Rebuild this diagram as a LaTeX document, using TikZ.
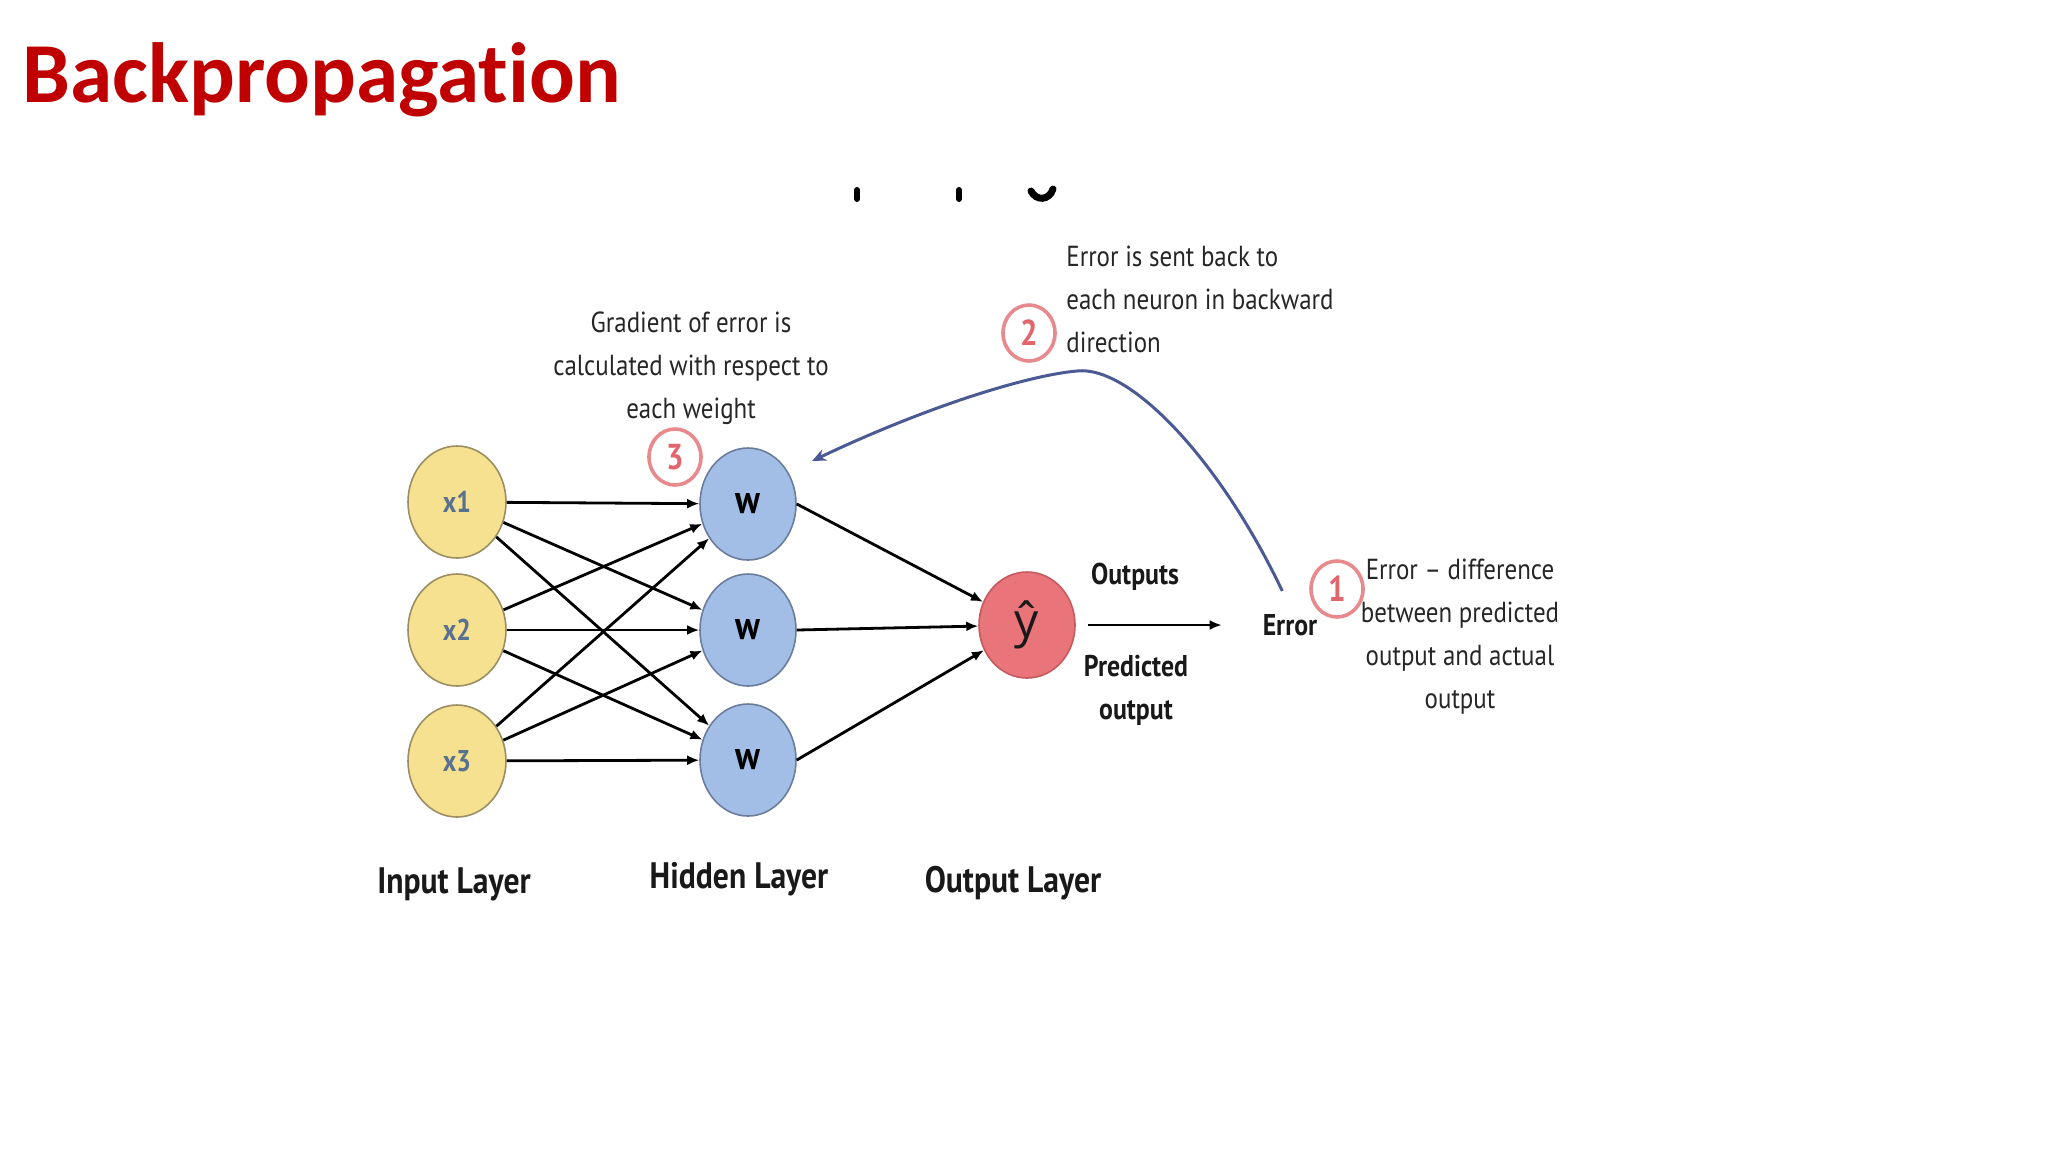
\documentclass[tikz,border=0pt]{standalone}
\usepackage{fontspec}
\setmainfont{PT Sans}
\newfontfamily\hand{PT Sans}[FakeStretch=0.86]
\newfontfamily\yfont{Open Sans}
\newfontfamily\titlefont{Carlito}[Ligatures=NoCommon]
\usetikzlibrary{shapes.geometric,arrows.meta}
\definecolor{titlered}{HTML}{C00000}
\definecolor{yellowfill}{HTML}{F5E18F}
\definecolor{yellowdraw}{HTML}{9C8E62}
\definecolor{bluefill}{HTML}{A3BEE6}
\definecolor{bluedraw}{HTML}{6A7E9C}
\definecolor{redfill}{HTML}{E9757A}
\definecolor{reddraw}{HTML}{C45A5E}
\definecolor{badgeline}{HTML}{E8898D}
\definecolor{badgenum}{HTML}{E2646C}
\definecolor{curvecol}{HTML}{4B5A94}
\definecolor{xcol}{HTML}{5A7090}
\begin{document}
\begin{tikzpicture}[x=0.5pt,y=-0.5pt,
  inp/.style={ellipse, draw=yellowdraw, fill=yellowfill, line width=0.8pt,
    minimum width=49pt, minimum height=56pt, inner sep=0pt,
    font=\hand\bfseries\fontsize{15}{17}\selectfont, text=xcol},
  hid/.style={ellipse, draw=bluedraw, fill=bluefill, line width=0.8pt,
    minimum width=48pt, minimum height=56pt, inner sep=0pt,
    font=\hand\bfseries\fontsize{20}{22}\selectfont, text=black},
  outn/.style={ellipse, draw=reddraw, fill=redfill, line width=0.8pt,
    minimum width=48pt, minimum height=53pt, inner sep=0pt,
    font=\yfont\fontsize{24}{26}\selectfont, text=black!90},
  badge/.style={ellipse, draw=badgeline, fill=white, line width=1.8pt,
    minimum width=26pt, minimum height=28pt, inner sep=0pt,
    font=\hand\bfseries\fontsize{18}{20}\selectfont, text=badgenum},
  edge/.style={-{Latex[length=6pt,width=5pt]}, line width=1.4pt, black},
  note/.style={align=center, inner sep=0pt, text=black!85,
    font=\hand\fontsize{14.5}{21.5}\selectfont},
  boldnote/.style={align=center, inner sep=0pt, text=black!90,
    font=\hand\bfseries\fontsize{15}{21.5}\selectfont},
  layer/.style={inner sep=0pt, text=black!90,
    font=\hand\bfseries\fontsize{18.4}{20}\selectfont},
  backarrow/.style={-{Stealth[length=7pt,width=6pt]}, line width=1.5pt, curvecol}
]
\useasboundingbox (0,0) rectangle (2048,1152);

% title
\node[anchor=base west, inner sep=0pt, text=titlered,
  font=\titlefont\bfseries\fontsize{42.7}{50}\selectfont] (title) at (22,102) {Backpropagation};

% cropped glyph fragments
\draw[line width=3pt, line cap=round] (857,190) -- (857,199);
\draw[line width=3pt, line cap=round] (959,190) -- (959,199);
\draw[line width=3.5pt, line cap=round] (1031,191) .. controls (1036,201) and (1049,201) .. (1053,189);

% nodes
\node[inp] (x1) at (457,502) {x1};
\node[inp] (x2) at (457,630) {x2};
\node[inp] (x3) at (457,761) {x3};
\node[hid] (w1) at (748,504) {w};
\node[hid] (w2) at (748,630) {w};
\node[hid] (w3) at (748,760) {w};
\node[outn] (yhat) at (1027,625) {ŷ};

% input -> hidden
\draw[edge] (x1) -- (w1);
\draw[edge] (x1) -- (w2);
\draw[edge] (x1) -- (w3);
\draw[edge] (x2) -- (w1);
\draw[edge] (x2) -- (w2);
\draw[edge] (x2) -- (w3);
\draw[edge] (x3) -- (w1);
\draw[edge] (x3) -- (w2);
\draw[edge] (x3) -- (w3);
% hidden -> output
\draw[edge] (w1.east) -- (yhat);
\draw[edge] (w2.east) -- (yhat);
\draw[edge] (w3.east) -- (yhat);

% output labels and error
\node[boldnote] (outs) at (1135,577) {Outputs};
\node[boldnote] (pred) at (1136,690) {Predicted\\output};
\node[boldnote, inner sep=3.33pt] (err) at (1290,625) {Error};
\draw[edge, shorten <=6pt, shorten >=17pt] (yhat) -- (err);

% back-propagated error
\coordinate (tip) at (812,461);
\draw[backarrow, shorten <=9pt] (err.north) .. controls (1220,460) and (1130,365) .. (1077,371)
  .. controls (1030,375) and (930,405) .. (tip);

% badges
\node[badge] (b1) at (1337,589) {1};
\node[badge] (b2) at (1029,333) {2};
\node[badge] (b3) at (675,457) {3};

% annotations
\node[note] (n3) at (691,368) {Gradient of error is\\calculated with respect to\\each weight};
\node[note, anchor=west, align=left] (n2) at (1066,299) {Error is sent back to\\each neuron in backward\\direction};
\node[note] (n1) at (1460,637) {Error – difference\\between predicted\\output and actual\\output};

% layer labels
\node[layer] (l1) at (454,884) {Input Layer};
\node[layer] (l2) at (739,879) {Hidden Layer};
\node[layer] (l3) at (1013,883) {Output Layer};
\end{tikzpicture}
\end{document}
